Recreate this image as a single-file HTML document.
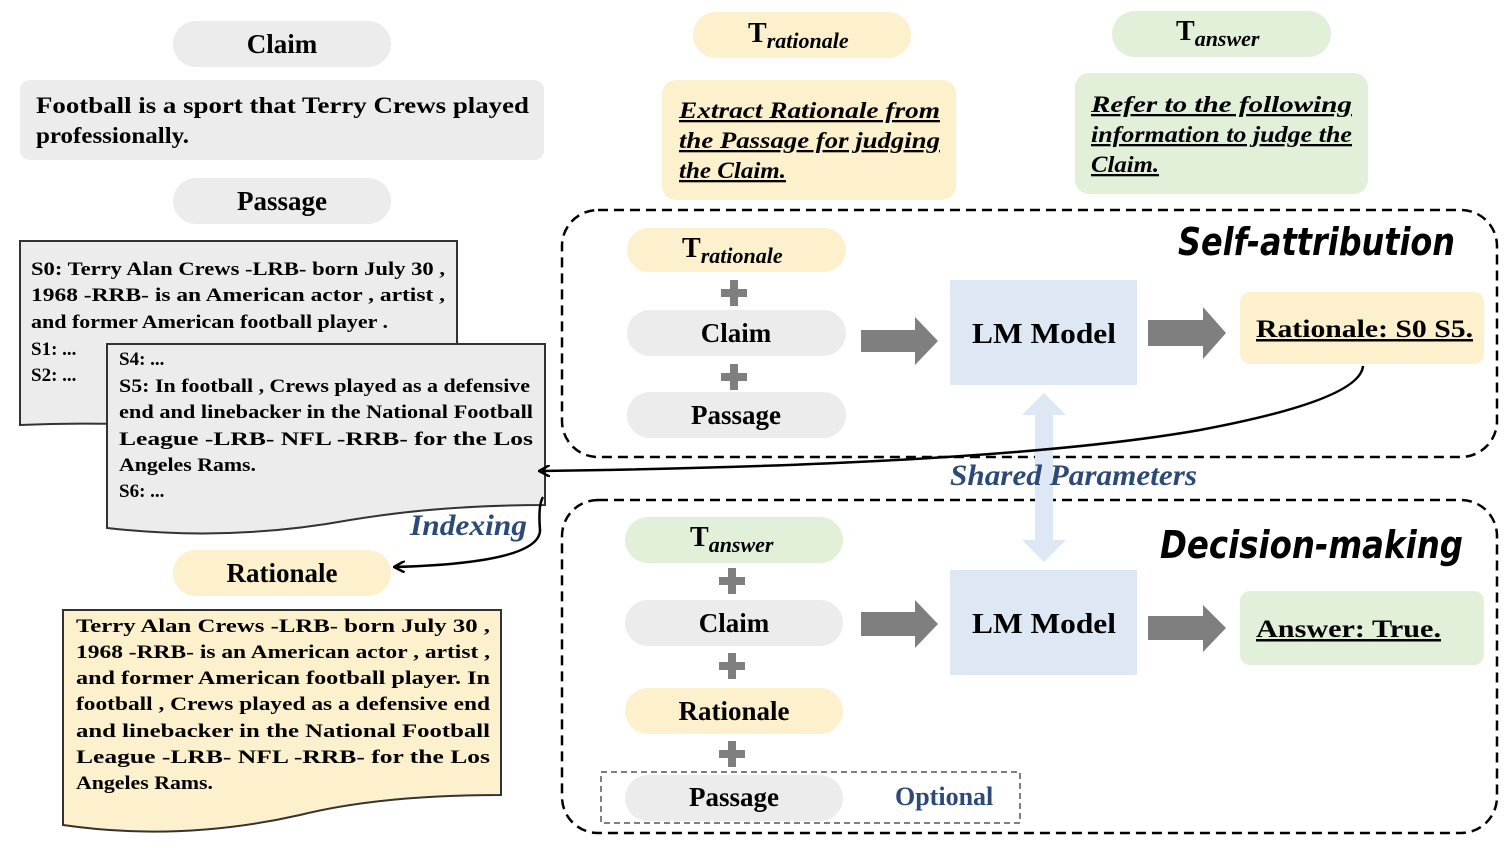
<!DOCTYPE html>
<html><head><meta charset="utf-8"><style>
body{margin:0;background:#fff;}
svg text{font-family:"Liberation Serif",serif;font-weight:bold;}
</style></head><body>
<svg width="1505" height="849" xmlns="http://www.w3.org/2000/svg">
<defs>
<marker id="ah" markerWidth="12" markerHeight="12" refX="10" refY="6" orient="auto" markerUnits="userSpaceOnUse"><path d="M0,0 L11,6 L0,12" fill="none" stroke="#000" stroke-width="2.5"/></marker>
</defs>
<rect x="173" y="21" width="218" height="46" rx="23" fill="#ececec"/>
<text x="282" y="53" font-size="27" text-anchor="middle">Claim</text>
<rect x="20" y="80" width="524" height="80" rx="10" fill="#ececec"/>
<text x="36" y="113" font-size="23" textLength="493" lengthAdjust="spacingAndGlyphs">Football is a sport that Terry Crews played</text>
<text x="36" y="143" font-size="23" textLength="153" lengthAdjust="spacingAndGlyphs">professionally.</text>
<rect x="173" y="178" width="218" height="46" rx="23" fill="#ececec"/>
<text x="282" y="210" font-size="27" text-anchor="middle">Passage</text>
<path d="M20,241 L457,241 L457,430 Q350,445 250,433 Q130,420 20,425 Z" fill="#ececec" stroke="#333" stroke-width="2"/>
<g font-size="19">
<text x="31" y="275" textLength="414" lengthAdjust="spacingAndGlyphs">S0: Terry Alan Crews -LRB- born July 30 ,</text>
<text x="31" y="301" textLength="414" lengthAdjust="spacingAndGlyphs">1968 -RRB- is an American actor , artist ,</text>
<text x="31" y="328" textLength="357" lengthAdjust="spacingAndGlyphs">and former American football player .</text>
<text x="31" y="355">S1: ...</text>
<text x="31" y="381">S2: ...</text>
</g>
<path d="M107,344 L545,344 L545,505 Q440,505 350,520 Q230,542 107,528 Z" fill="#ececec" stroke="#333" stroke-width="2"/>
<g font-size="19">
<text x="119" y="365">S4: ...</text>
<text x="119" y="392" textLength="411" lengthAdjust="spacingAndGlyphs">S5: In football , Crews played as a defensive</text>
<text x="119" y="418" textLength="414" lengthAdjust="spacingAndGlyphs">end and linebacker in the National Football</text>
<text x="119" y="445" textLength="414" lengthAdjust="spacingAndGlyphs">League -LRB- NFL -RRB- for the Los</text>
<text x="119" y="471" textLength="137" lengthAdjust="spacingAndGlyphs">Angeles Rams.</text>
<text x="119" y="497">S6: ...</text>
</g>
<text x="410" y="535" font-size="30" font-style="italic" fill="#2c4a78" font-weight="normal" textLength="117" lengthAdjust="spacingAndGlyphs">Indexing</text>
<path d="M543,497 Q538,505 540,530 Q540,563 395,567" fill="none" stroke="#000" stroke-width="2.5" marker-end="url(#ah)"/>
<rect x="173" y="550" width="218" height="46" rx="23" fill="#fdf0cc"/>
<text x="282" y="582" font-size="27" text-anchor="middle">Rationale</text>
<path d="M63,610 L501,610 L501,795 Q380,795 300,815 Q180,842 63,825 Z" fill="#fdf0cc" stroke="#333" stroke-width="2"/>
<g font-size="19">
<text x="76" y="632" textLength="414" lengthAdjust="spacingAndGlyphs">Terry Alan Crews -LRB- born July 30 ,</text>
<text x="76" y="658" textLength="414" lengthAdjust="spacingAndGlyphs">1968 -RRB- is an American actor , artist ,</text>
<text x="76" y="684" textLength="414" lengthAdjust="spacingAndGlyphs">and former American football player. In</text>
<text x="76" y="710" textLength="414" lengthAdjust="spacingAndGlyphs">football , Crews played as a defensive end</text>
<text x="76" y="737" textLength="414" lengthAdjust="spacingAndGlyphs">and linebacker in the National Football</text>
<text x="76" y="763" textLength="414" lengthAdjust="spacingAndGlyphs">League -LRB- NFL -RRB- for the Los</text>
<text x="76" y="789" textLength="137" lengthAdjust="spacingAndGlyphs">Angeles Rams.</text>
</g>
<rect x="693" y="12" width="218" height="46" rx="23" fill="#fdf0cc"/>
<text x="748" y="42" font-size="28" font-weight="normal">T<tspan font-size="22" font-style="italic" dy="6">rationale</tspan></text>
<rect x="662" y="80" width="294" height="120" rx="14" fill="#fdf0cc"/>
<g font-size="23" font-style="italic" text-decoration="underline">
<text x="679" y="118" textLength="261" lengthAdjust="spacingAndGlyphs">Extract Rationale from</text>
<text x="679" y="148" textLength="261" lengthAdjust="spacingAndGlyphs">the Passage for judging</text>
<text x="679" y="178" textLength="107" lengthAdjust="spacingAndGlyphs">the Claim.</text>
</g>
<rect x="1112" y="11" width="219" height="46" rx="23" fill="#e2efd9"/>
<text x="1176" y="40" font-size="28" font-weight="normal">T<tspan font-size="22" font-style="italic" dy="6">answer</tspan></text>
<rect x="1075" y="73" width="293" height="121" rx="14" fill="#e2efd9"/>
<g font-size="23" font-style="italic" text-decoration="underline">
<text x="1091" y="112" textLength="261" lengthAdjust="spacingAndGlyphs">Refer to the following</text>
<text x="1091" y="142" textLength="261" lengthAdjust="spacingAndGlyphs">information to judge the</text>
<text x="1091" y="172" textLength="68" lengthAdjust="spacingAndGlyphs">Claim.</text>
</g>
<rect x="562" y="210" width="935" height="247" rx="36" fill="none" stroke="#000" stroke-width="2.5" stroke-dasharray="10,6"/>
<rect x="562" y="500" width="935" height="333" rx="36" fill="none" stroke="#000" stroke-width="2.5" stroke-dasharray="10,6"/>
<text x="1178" y="255" font-size="38" font-style="italic" textLength="277" lengthAdjust="spacingAndGlyphs" style="font-family:'DejaVu Sans',sans-serif">Self-attribution</text>
<text x="1160" y="558" font-size="38" font-style="italic" textLength="303" lengthAdjust="spacingAndGlyphs" style="font-family:'DejaVu Sans',sans-serif">Decision-making</text>
<path d="M1044,393 L1066,415 L1053,415 L1053,540 L1066,540 L1044,562 L1022,540 L1035,540 L1035,415 L1022,415 Z" fill="#dde8f4"/>
<rect x="627" y="228" width="219" height="44" rx="22" fill="#fdf0cc"/>
<text x="682" y="257" font-size="28" font-weight="normal">T<tspan font-size="22" font-style="italic" dy="6">rationale</tspan></text>
<path d="M730,280h8v9h9v8h-9v9h-8v-9h-9v-8h9z" fill="#7f7f7f"/>
<rect x="627" y="310" width="219" height="46" rx="23" fill="#ececec"/>
<text x="736" y="342" font-size="27" text-anchor="middle">Claim</text>
<path d="M730,364h8v9h9v8h-9v9h-8v-9h-9v-8h9z" fill="#7f7f7f"/>
<rect x="627" y="392" width="219" height="46" rx="23" fill="#ececec"/>
<text x="736" y="424" font-size="27" text-anchor="middle">Passage</text>
<path d="M861,330 L915,330 L915,317 L938,341 L915,365 L915,352 L861,352 Z" fill="#7f7f7f"/>
<rect x="950" y="280" width="187" height="105" fill="#dde8f4"/>
<text x="972" y="343" font-size="29" textLength="144" lengthAdjust="spacingAndGlyphs">LM Model</text>
<path d="M1148,320 L1203,320 L1203,307 L1226,333 L1203,359 L1203,346 L1148,346 Z" fill="#7f7f7f"/>
<rect x="1240" y="292" width="244" height="72" rx="10" fill="#fdf0cc"/>
<text x="1256" y="337" font-size="25" text-decoration="underline" textLength="217" lengthAdjust="spacingAndGlyphs">Rationale:  S0 S5.</text>
<path d="M1363,366 Q1360,400 1200,430 Q1000,465 540,471" fill="none" stroke="#000" stroke-width="2.5" marker-end="url(#ah)"/>
<text x="950" y="485" font-size="30" font-style="italic" fill="#2c4a78" font-weight="normal" textLength="247" lengthAdjust="spacingAndGlyphs">Shared Parameters</text>
<rect x="625" y="517" width="218" height="46" rx="23" fill="#e2efd9"/>
<text x="690" y="546" font-size="28" font-weight="normal">T<tspan font-size="22" font-style="italic" dy="6">answer</tspan></text>
<path d="M728,568h8v9h9v8h-9v9h-8v-9h-9v-8h9z" fill="#7f7f7f"/>
<rect x="625" y="600" width="218" height="46" rx="23" fill="#ececec"/>
<text x="734" y="632" font-size="27" text-anchor="middle">Claim</text>
<path d="M728,653h8v9h9v8h-9v9h-8v-9h-9v-8h9z" fill="#7f7f7f"/>
<rect x="625" y="688" width="218" height="46" rx="23" fill="#fdf0cc"/>
<text x="734" y="720" font-size="27" text-anchor="middle">Rationale</text>
<path d="M728,741h8v9h9v8h-9v9h-8v-9h-9v-8h9z" fill="#7f7f7f"/>
<rect x="601" y="772" width="419" height="51" fill="none" stroke="#7f7f7f" stroke-width="2" stroke-dasharray="6,4"/>
<rect x="625" y="775" width="218" height="46" rx="23" fill="#ececec"/>
<text x="734" y="806" font-size="27" text-anchor="middle">Passage</text>
<text x="895" y="805" font-size="26" fill="#2c4a78">Optional</text>
<path d="M861,612 L915,612 L915,600 L938,624 L915,648 L915,636 L861,636 Z" fill="#7f7f7f"/>
<rect x="950" y="570" width="187" height="105" fill="#dde8f4"/>
<text x="972" y="633" font-size="29" textLength="144" lengthAdjust="spacingAndGlyphs">LM Model</text>
<path d="M1148,616 L1203,616 L1203,605 L1226,628 L1203,652 L1203,640 L1148,640 Z" fill="#7f7f7f"/>
<rect x="1240" y="591" width="244" height="74" rx="10" fill="#e2efd9"/>
<text x="1256" y="637" font-size="25" text-decoration="underline" textLength="185" lengthAdjust="spacingAndGlyphs">Answer:  True.</text>
</svg>
</body></html>
